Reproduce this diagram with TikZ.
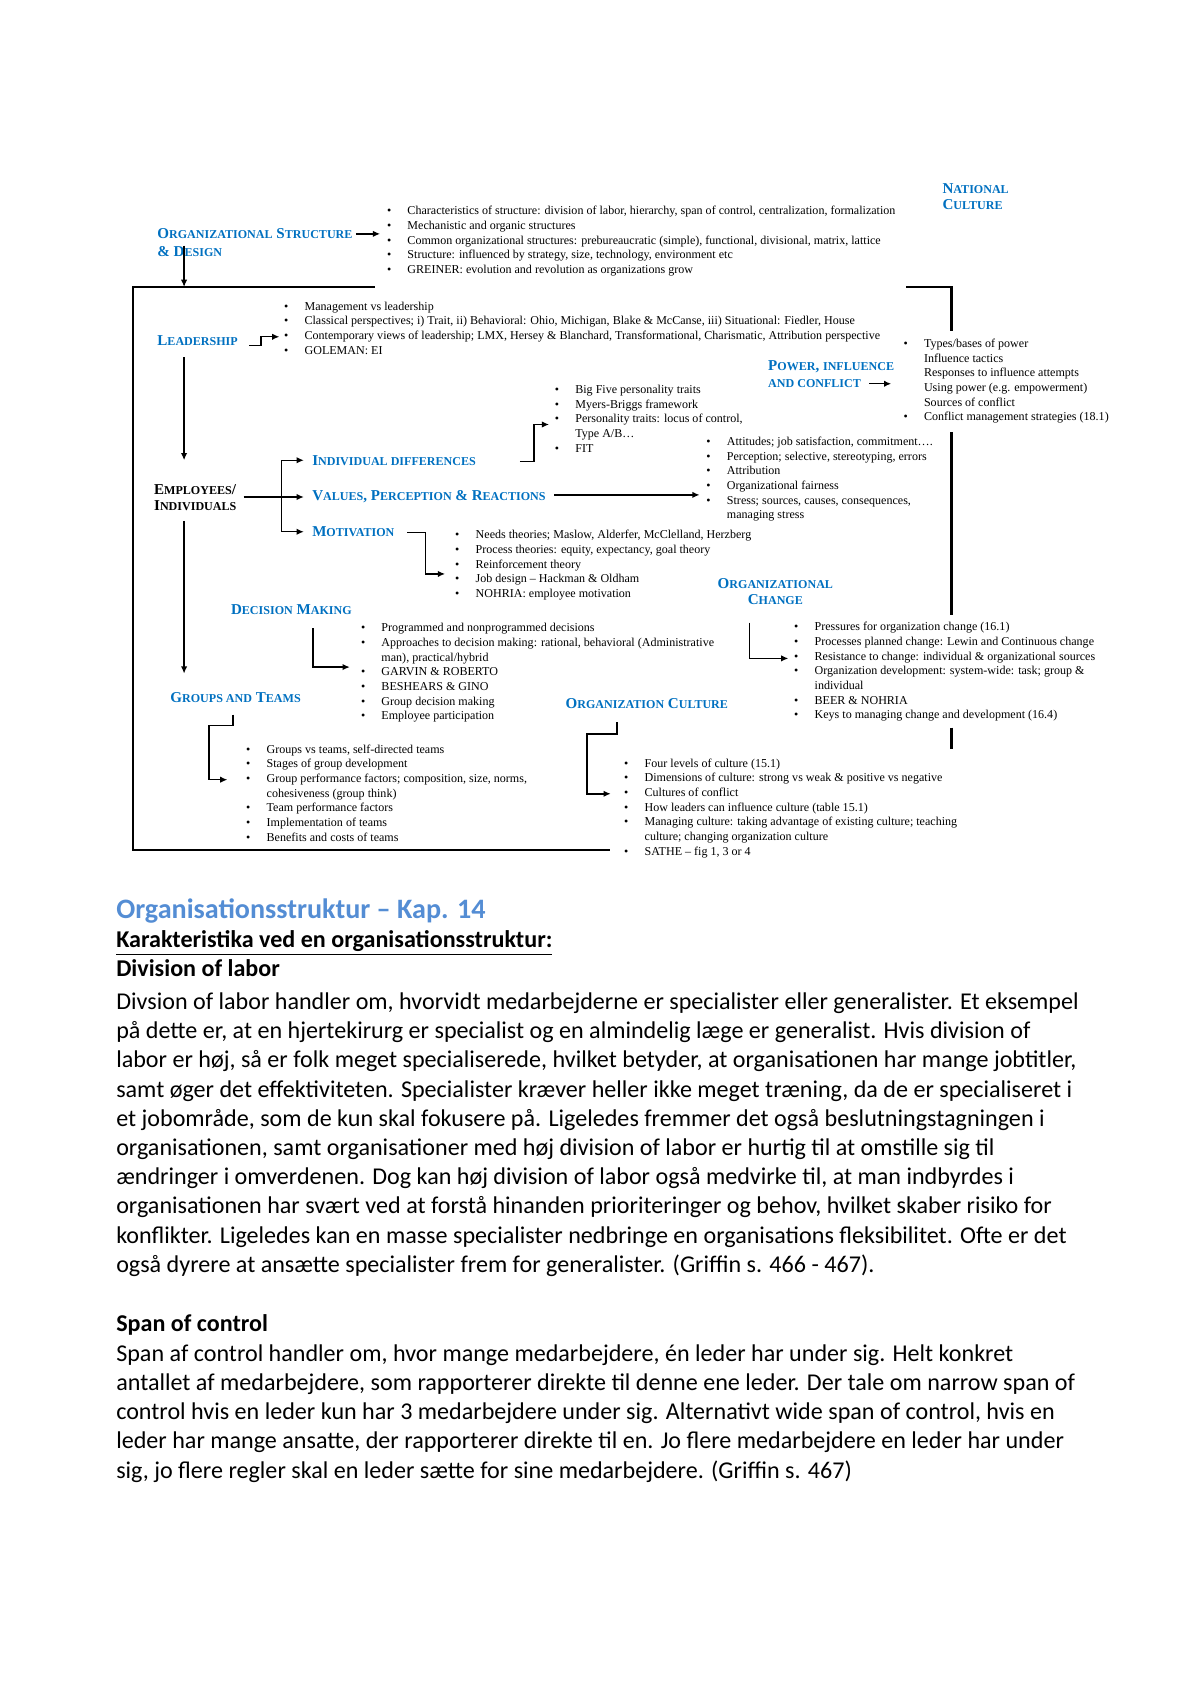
\documentclass[tikz,border=0pt]{standalone}
\usepackage{fontspec}
\setmainfont{Liberation Serif}
\newfontfamily\bodyfont{Carlito}
\usetikzlibrary{arrows.meta}

\definecolor{topicblue}{RGB}{0,112,192}
\definecolor{titleblue}{RGB}{84,141,212}

\newcommand\smc[1]{{\fontsize{6}{6.5}\selectfont\MakeUppercase{#1}}}
\newcommand\pts[1]{\begin{tabular}[t]{@{}p{10.2pt}@{}l@{}}#1\end{tabular}}
\newcommand\txt[1]{\begin{tabular}[t]{@{}l@{}}#1\end{tabular}}
\newcommand\bl{\textbullet &}

\tikzset{
  topic/.style={font=\fontsize{7.5}{8}\selectfont\bfseries, text=topicblue, inner sep=0pt, anchor=base west},
  plain topic/.style={topic, text=black},
  points/.style={font=\fontsize{6}{7.3}\selectfont, inner sep=0pt, anchor=base west},
  body/.style={font=\bodyfont\fontsize{12}{14.56}\selectfont, inner sep=0pt, anchor=base west},
  bodyhead/.style={body, font=\bodyfont\fontsize{12}{14.56}\selectfont\bfseries},
  frame/.style={line width=1pt},
  spine/.style={line width=1.4pt},
  wire/.style={line width=0.7pt},
  link/.style={wire, -{Latex[length=3.6pt,width=3.2pt]}},
}

\begin{document}
\begin{tikzpicture}[x=0.018953cm, y=-0.018953cm]
\useasboundingbox (0,0) rectangle (1108,1568);

% structure
\node[topic] (nat1) at (870,178.5) {N\smc{ational}};
\node[topic] (nat2) at (870,193.5) {C\smc{ulture}};
\node[topic] (os1) at (145,220.5) {O\smc{rganizational} S\smc{tructure}};
\node[topic] (os2) at (145,236.5) {\& D\smc{esign}};
\node[points] (oslist) at (357,198.5) {\pts{
\bl Characteristics of structure: division of labor, hierarchy, span of control, centralization, formalization\\
\bl Mechanistic and organic structures\\
\bl Common organizational structures: prebureaucratic (simple), functional, divisional, matrix, lattice\\
\bl Structure: influenced by strategy, size, technology, environment etc\\
\bl GREINER: evolution and revolution as organizations grow}};
\coordinate (os-in) at (351,217);
\draw[link] ([xshift=1.5pt]os1.east) -- (os1.east -| os-in);

% frame
\coordinate (frame-tl) at (123,265);
\coordinate (frame-tr) at (346,265);
\coordinate (frame-bl) at (123,785);
\coordinate (frame-br) at (563,785);
\draw[frame] (frame-tr) -- (frame-tl) -- (frame-bl) -- (frame-br);
\coordinate (trunk) at (170,0);
\draw[link] (trunk |- os2.north) -- (trunk |- frame-tl);

% leadership
\node[topic] (lead) at (145,319) {L\smc{eadership}};
\node[points] (leadlist) at (262,286.5) {\pts{
\bl Management vs leadership\\
\bl Classical perspectives; i) Trait, ii) Behavioral: Ohio, Michigan, Blake \& McCanse, iii) Situational: Fiedler, House\\
\bl Contemporary views of leadership; LMX, Hersey \& Blanchard, Transformational, Charismatic, Attribution perspective\\
\bl GOLEMAN: EI}};
\coordinate (lead-out) at (230,319);
\coordinate (lead-step) at (241,319);
\coordinate (lead-in) at (258,311);
\draw[link] (lead-out) -- (lead-step) |- (lead-in);

% employees
\node[plain topic] (emp1) at (142,456.5) {E\smc{mployees}/};
\node[plain topic] (emp2) at (142,471.5) {I\smc{ndividuals}};
\coordinate (lead-foot) at (170,330);
\coordinate (emp-head) at (170,425);
\draw[link] (lead-foot) -- (emp-head);
\coordinate (emp-foot) at (170,481);
\coordinate (grp-head) at (170,622);
\draw[link] (emp-foot) -- (grp-head);

\node[topic] (inddiff) at (288,429.5) {I\smc{ndividual differences}};
\node[topic] (values) at (288,462.5) {V\smc{alues}, P\smc{erception} \& R\smc{eactions}};
\node[topic] (motiv) at (288,495.5) {M\smc{otivation}};
\coordinate (emp-out) at (225,459);
\coordinate (fork) at (260,459);
\draw[wire] (emp-out) -- (fork);
\draw[wire] (fork |- inddiff.west) -- (fork |- motiv.west);
\foreach \t in {inddiff, values, motiv}
  \draw[link] (fork |- \t.west) -- ([xshift=-4pt]\t.west);

% individual differences
\node[points] (indlist) at (512,363.5) {\pts{
\bl Big Five personality traits\\
\bl Myers-Briggs framework\\
\bl Personality traits: locus of control,\\
 & Type A/B\ldots\\
\bl FIT}};
\coordinate (ind-out) at (480,426);
\coordinate (ind-step) at (493,426);
\coordinate (ind-in) at (507,392);
\draw[link] (ind-out) -- (ind-step) |- (ind-in);

% values
\node[points] (vallist) at (652,411.5) {\pts{
\bl Attitudes; job satisfaction, commitment\ldots.\\
\bl Perception; selective, stereotyping, errors\\
\bl Attribution\\
\bl Organizational fairness\\
\bl Stress; sources, causes, consequences,\\
 & managing stress}};
\coordinate (val-out) at (512,457);
\coordinate (val-in) at (646,457);
\draw[link] (val-out) -- (val-in);

% motivation
\node[points] (motlist) at (420,497.5) {\pts{
\bl Needs theories; Maslow, Alderfer, McClelland, Herzberg\\
\bl Process theories: equity, expectancy, goal theory\\
\bl Reinforcement theory\\
\bl Job design -- Hackman \& Oldham\\
\bl NOHRIA: employee motivation}};
\coordinate (mot-out) at (376,492);
\coordinate (mot-step) at (393,492);
\coordinate (mot-in) at (411,530);
\draw[link] (mot-out) -- (mot-step) |- (mot-in);

% power
\node[topic] (pow1) at (709,342.5) {P\smc{ower}, \smc{influence}};
\node[topic] (pow2) at (709,358) {\smc{and conflict}};
\node[points] (powlist) at (834,321) {\pts{
\bl Types/bases of power\\
 & Influence tactics\\
 & Responses to influence attempts\\
 & Using power (e.g. empowerment)\\
 & Sources of conflict\\
\bl Conflict management strategies (18.1)}};
\coordinate (pow-in) at (823,354);
\draw[link] ([xshift=4pt]pow2.east) -- (pow2.east -| pow-in);

% right spine
\coordinate (spine-a) at (837,265);
\coordinate (spine-b) at (879,265);
\coordinate (spine-c) at (879,306);
\coordinate (spine-d) at (879,399);
\coordinate (spine-e) at (879,568);
\coordinate (spine-f) at (879,672);
\coordinate (spine-g) at (879,692);
\draw[spine] (spine-a) -- (spine-b) -- (spine-c);
\draw[spine] (spine-d) -- (spine-e);
\draw[spine] (spine-f) -- (spine-g);

% change
\node[topic, anchor=base] (chg1) at (716,543.5) {O\smc{rganizational}};
\node[topic, anchor=base] (chg2) at (716,558.5) {C\smc{hange}};
\node[points] (chglist) at (733,582.5) {\pts{
\bl Pressures for organization change (16.1)\\
\bl Processes planned change: Lewin and Continuous change\\
\bl Resistance to change: individual \& organizational sources\\
\bl Organization development: system-wide: task; group \&\\
 & individual\\
\bl BEER \& NOHRIA\\
\bl Keys to managing change and development (16.4)}};
\coordinate (chg-out) at (692,575);
\coordinate (chg-in) at (728,608);
\draw[link] (chg-out) |- (chg-in);

% decision making
\node[topic] (dec) at (213,567.5) {D\smc{ecision} M\smc{aking}};
\node[points] (declist) at (333,583.5) {\pts{
\bl Programmed and nonprogrammed decisions\\
\bl Approaches to decision making: rational, behavioral (Administrative\\
 & man), practical/hybrid\\
\bl GARVIN \& ROBERTO\\
\bl BESHEARS \& GINO\\
\bl Group decision making\\
\bl Employee participation}};
\coordinate (dec-out) at (289,580);
\coordinate (dec-in) at (323,616);
\draw[link] (dec-out) |- (dec-in);

% groups
\node[topic] (grp) at (157,648.5) {G\smc{roups and} T\smc{eams}};
\node[points] (grplist) at (227,695.5) {\pts{
\bl Groups vs teams, self-directed teams\\
\bl Stages of group development\\
\bl Group performance factors; composition, size, norms,\\
 & cohesiveness (group think)\\
\bl Team performance factors\\
\bl Implementation of teams\\
\bl Benefits and costs of teams}};
\coordinate (grp-out) at (215,660);
\coordinate (grp-step) at (193,670);
\coordinate (grp-in) at (210,720);
\draw[link] (grp-out) |- (grp-step) |- (grp-in);

% culture
\node[topic] (cult) at (522,654.5) {O\smc{rganization} C\smc{ulture}};
\node[points] (culist) at (576,708.5) {\pts{
\bl Four levels of culture (15.1)\\
\bl Dimensions of culture: strong vs weak \& positive vs negative\\
\bl Cultures of conflict\\
\bl How leaders can influence culture (table 15.1)\\
\bl Managing culture: taking advantage of existing culture; teaching\\
 & culture; changing organization culture\\
\bl SATHE -- fig 1, 3 or 4}};
\coordinate (cul-out) at (570,667);
\coordinate (cul-step) at (542,678);
\coordinate (cul-in) at (564,733);
\draw[link, line width=1pt] (cul-out) |- (cul-step) |- (cul-in);

% text
\node[body, font=\bodyfont\fontsize{14}{15}\selectfont\bfseries, text=titleblue] (title) at (107,848) {Organisationsstruktur \textendash{} Kap. 14};
\node[bodyhead] (karak) at (107,875) {\underline{Karakteristika ved en organisationsstruktur:}};
\node[bodyhead] (divhead) at (107,902) {Division of labor};
\node[body] (divtext) at (107,932) {\txt{
Divsion of labor handler om, hvorvidt medarbejderne er specialister eller generalister. Et eksempel\\
på dette er, at en hjertekirurg er specialist og en almindelig læge er generalist. Hvis division of\\
labor er høj, så er folk meget specialiserede, hvilket betyder, at organisationen har mange jobtitler,\\
samt øger det effektiviteten. Specialister kræver heller ikke meget træning, da de er specialiseret i\\
et jobområde, som de kun skal fokusere på. Ligeledes fremmer det også beslutningstagningen i\\
organisationen, samt organisationer med høj division of labor er hurtig til at omstille sig til\\
ændringer i omverdenen. Dog kan høj division of labor også medvirke til, at man indbyrdes i\\
organisationen har svært ved at forstå hinanden prioriteringer og behov, hvilket skaber risiko for\\
konflikter. Ligeledes kan en masse specialister nedbringe en organisations fleksibilitet. Ofte er det\\
også dyrere at ansætte specialister frem for generalister. (Griffin s. 466 - 467).}};
\node[bodyhead] (spanhead) at (107,1230) {Span of control};
\node[body] (spantext) at (107,1257) {\txt{
Span af control handler om, hvor mange medarbejdere, én leder har under sig. Helt konkret\\
antallet af medarbejdere, som rapporterer direkte til denne ene leder. Der tale om narrow span of\\
control hvis en leder kun har 3 medarbejdere under sig. Alternativt wide span of control, hvis en\\
leder har mange ansatte, der rapporterer direkte til en. Jo flere medarbejdere en leder har under\\
sig, jo flere regler skal en leder sætte for sine medarbejdere. (Griffin s. 467)}};
\end{tikzpicture}
\end{document}
